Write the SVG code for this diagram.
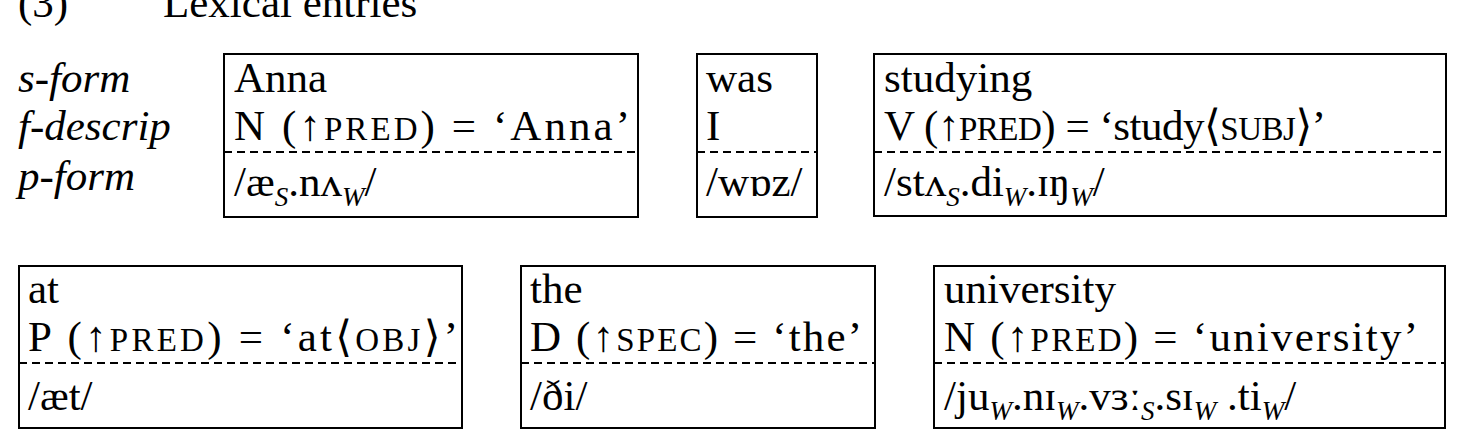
<svg xmlns="http://www.w3.org/2000/svg" width="1465" height="445" viewBox="0 0 1465 445" font-family="Liberation Serif, Times New Roman, serif">
<style>
text{font-family:'Liberation Serif','DejaVu Serif',serif;font-size:43px;fill:#000}
.i{font-style:italic}
.sc{font-size:33px}
.sb{font-style:italic;font-size:27px}
rect{fill:#fff;stroke:#000;stroke-width:2}
.d{stroke:#000;stroke-width:2;stroke-dasharray:8,5}
</style>
<rect x="0" y="0" width="1465" height="445" style="stroke:none"/>
<text x="18" y="17">(3)</text><text x="163" y="17">Lexical entries</text>
<text class="i" x="18" y="92">s-form</text>
<text class="i" x="18" y="140">f-descrip</text>
<text class="i" x="18" y="190">p-form</text>
<g id="anna"><rect x="224" y="54" width="414" height="163"/><line class="d" x1="224" y1="152" x2="638" y2="152"/>
<text x="234" y="92">Anna</text>
<text x="234" y="140" textLength="396" lengthAdjust="spacing">N  (↑<tspan class="sc">PRED</tspan>) = ‘Anna’</text>
<text x="234" y="196">/æ<tspan class="sb" dy="10">S</tspan><tspan dy="-10">.nʌ</tspan><tspan class="sb" dy="10">W</tspan><tspan dy="-10">/</tspan></text></g>
<g id="was"><rect x="697" y="54" width="120" height="163"/><line class="d" x1="697" y1="152" x2="817" y2="152"/>
<text x="706" y="92">was</text><text x="706" y="140">I</text><text x="706" y="196">/wɒz/</text></g>
<g id="studying"><rect x="874" y="54" width="572" height="162"/><line class="d" x1="874" y1="152" x2="1446" y2="152"/>
<text x="884" y="92">studying</text>
<text x="884" y="140" textLength="442" lengthAdjust="spacing">V (↑<tspan class="sc">PRED</tspan>) = ‘study⟨<tspan class="sc">SUBJ</tspan>⟩’</text>
<text x="884" y="196">/stʌ<tspan class="sb" dy="10">S</tspan><tspan dy="-10">.di</tspan><tspan class="sb" dy="10">W</tspan><tspan dy="-10">.ɪŋ</tspan><tspan class="sb" dy="10">W</tspan><tspan dy="-10">/</tspan></text></g>
<g id="at"><rect x="19" y="266" width="443" height="162"/><line class="d" x1="19" y1="363" x2="462" y2="363"/>
<text x="28" y="303">at</text>
<text x="28" y="351" textLength="430" lengthAdjust="spacing">P  (↑<tspan class="sc">PRED</tspan>) = ‘at⟨<tspan class="sc">OBJ</tspan>⟩’</text>
<text x="28" y="410">/æt/</text></g>
<g id="the"><rect x="521" y="266" width="354" height="162"/><line class="d" x1="521" y1="363" x2="875" y2="363"/>
<text x="530" y="303">the</text>
<text x="530" y="351" textLength="332" lengthAdjust="spacing">D  (↑<tspan class="sc">SPEC</tspan>) = ‘the’</text>
<text x="530" y="410">/ði/</text></g>
<g id="university"><rect x="934" y="266" width="511" height="162"/><line class="d" x1="934" y1="363" x2="1445" y2="363"/>
<text x="944" y="303">university</text>
<text x="944" y="351" textLength="474" lengthAdjust="spacing">N  (↑<tspan class="sc">PRED</tspan>) = ‘university’</text>
<text x="944" y="410">/ju<tspan class="sb" dy="10">W</tspan><tspan dy="-10">.nɪ</tspan><tspan class="sb" dy="10">W</tspan><tspan dy="-10">.vɜː</tspan><tspan class="sb" dy="10">S</tspan><tspan dy="-10">.sɪ</tspan><tspan class="sb" dy="10">W</tspan><tspan dy="-10"> .ti</tspan><tspan class="sb" dy="10">W</tspan><tspan dy="-10">/</tspan></text></g>
<g id="connectors"/>
</svg>
